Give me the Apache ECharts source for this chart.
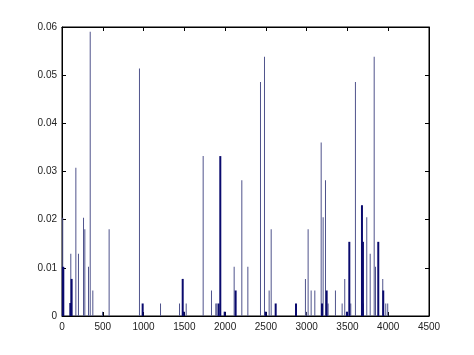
<!DOCTYPE html>
<html><head><meta charset="utf-8">
<script src="https://cdn.jsdelivr.net/npm/echarts@6/dist/echarts.min.js"></script>
<style>html,body{margin:0;padding:0;background:#fff}#c{width:474px;height:355px}</style>
</head><body><div id="c"></div>
<script>
// thin (single) bars: positions and heights
var thinX = [15, 114, 176, 208, 270, 286, 331, 352, 384, 503, 584, 956, 1214, 1447, 1529, 1737, 1839, 1892, 1904, 2117, 2211, 2285, 2440, 2489, 2546, 2571, 2991, 3000, 3024, 3061, 3106, 3184, 3208, 3237, 3269, 3359, 3441, 3473, 3547, 3604, 3703, 3743, 3785, 3834, 3850, 3939, 3976, 4000];
var thinY = [0.0204, 0.0129, 0.0308, 0.0129, 0.0204, 0.018, 0.0102, 0.059, 0.0053, 0.0009, 0.018, 0.0514, 0.0026, 0.0026, 0.0026, 0.0332, 0.0053, 0.0026, 0.0026, 0.0102, 0.0282, 0.0102, 0.0486, 0.0538, 0.0053, 0.018, 0.0077, 0.0009, 0.018, 0.0053, 0.0053, 0.036, 0.0205, 0.0282, 0.0026, 0.0053, 0.0026, 0.0077, 0.0026, 0.0486, 0.0026, 0.0205, 0.0129, 0.0538, 0.0102, 0.0077, 0.0026, 0.0026];
// dark (thick) bars
var darkX = [6, 16, 102, 118, 989, 1480, 1492, 1920, 1941, 1995, 2129, 2497, 2620, 2869, 3188, 3245, 3494, 3523, 3678, 3690, 3878, 3939];
var darkY = [0.0102, 0.0102, 0.0027, 0.0077, 0.0026, 0.0077, 0.0009, 0.0026, 0.0332, 0.0009, 0.0053, 0.0009, 0.0026, 0.0026, 0.0026, 0.0053, 0.0009, 0.0154, 0.023, 0.0154, 0.0154, 0.0053];
var xTicks = [0, 500, 1000, 1500, 2000, 2500, 3000, 3500, 4000, 4500];
var yTicks = [0, 0.01, 0.02, 0.03, 0.04, 0.05, 0.06];

function pairs(xs, ys){ return xs.map(function(x,i){ return [x, ys[i]]; }); }
var chart = echarts.init(document.getElementById('c'), null, {renderer:'canvas'});
function lbl(m){ return {color:'#222', fontSize:10, margin:m, fontFamily:'Liberation Sans, Arial, sans-serif', formatter:function(v){return String(v);}}; }
function axLine(){ return {show:true, onZero:false, lineStyle:{color:'#000', width:1}}; }
function tick(){ return {show:true, inside:true, length:4, lineStyle:{color:'#000'}}; }
chart.setOption({
  animation:false,
  backgroundColor:'#fff',
  grid:{left:62, right:45, top:27, bottom:39, show:true, borderColor:'#000', borderWidth:1, backgroundColor:'transparent'},
  xAxis:[
    {type:'value', min:xTicks[0], max:xTicks[xTicks.length-1], interval:500, position:'bottom',
     axisLine:axLine(), axisTick:tick(), splitLine:{show:false}, axisLabel:lbl(6)},
    {type:'value', min:xTicks[0], max:xTicks[xTicks.length-1], interval:500, position:'top',
     axisLine:axLine(), axisTick:tick(), splitLine:{show:false}, axisLabel:{show:false}}
  ],
  yAxis:[
    {type:'value', min:yTicks[0], max:yTicks[yTicks.length-1], interval:0.01, position:'left',
     axisLine:axLine(), axisTick:tick(), splitLine:{show:false}, axisLabel:lbl(5)},
    {type:'value', min:yTicks[0], max:yTicks[yTicks.length-1], interval:0.01, position:'right',
     axisLine:axLine(), axisTick:tick(), splitLine:{show:false}, axisLabel:{show:false}}
  ],
  series:[
    {type:'bar', data:pairs(thinX, thinY), barWidth:1, itemStyle:{color:'#4f538c'}, barGap:'-100%'},
    {type:'bar', data:pairs(darkX, darkY), barWidth:2, itemStyle:{color:'#0a0a6e'}, barGap:'-100%'}
  ]
});
</script></body></html>
